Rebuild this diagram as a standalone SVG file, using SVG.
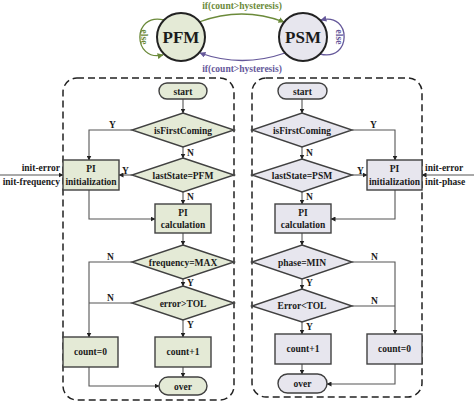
<svg xmlns="http://www.w3.org/2000/svg" width="474" height="404" viewBox="0 0 474 404">
<defs>
<style>
text{font-family:"Liberation Serif","Times New Roman",serif;font-weight:bold;fill:#1a1a1a}
.t{font-size:9.5px;text-anchor:middle}
.lab{font-size:9.5px}
.g{fill:#e4ead6;stroke:#404040;stroke-width:1.4}
.p{fill:#e7e6ee;stroke:#404040;stroke-width:1.4}
.c{fill:none;stroke:#555;stroke-width:1.1;marker-end:url(#ah)}
.cn{fill:none;stroke:#555;stroke-width:1.1}
.dash{fill:none;stroke:#222;stroke-width:1.5;stroke-dasharray:7,4}
</style>
<marker id="ah" viewBox="0 0 10 10" refX="9" refY="5" markerWidth="5" markerHeight="5" orient="auto" markerUnits="userSpaceOnUse"><path d="M0,0 L10,5 L0,10 z" fill="#222"/></marker>
<marker id="ahg" viewBox="0 0 10 10" refX="9" refY="5" markerWidth="6" markerHeight="6" orient="auto" markerUnits="userSpaceOnUse"><path d="M0,0 L10,5 L0,10 z" fill="#6b8a3a"/></marker>
<marker id="ahp" viewBox="0 0 10 10" refX="9" refY="5" markerWidth="6" markerHeight="6" orient="auto" markerUnits="userSpaceOnUse"><path d="M0,0 L10,5 L0,10 z" fill="#65589a"/></marker>
</defs>
<rect width="474" height="404" fill="#fff"/>

<!-- containers -->
<rect class="dash" x="63" y="78" width="171" height="322" rx="14"/>
<rect class="dash" x="252" y="78" width="170" height="319" rx="14"/>

<!-- connectors -->
<g id="connectors">
<path d="M199,22 Q242,6 284,22" fill="none" stroke="#6b8a3a" stroke-width="1.3" marker-end="url(#ahg)"/>
<path d="M285,53 Q242,68 200,53" fill="none" stroke="#65589a" stroke-width="1.3" marker-end="url(#ahp)"/>
<path d="M164,20 C132,12 132,62 163,55" fill="none" stroke="#6b8a3a" stroke-width="1.3" marker-end="url(#ahg)"/>
<path d="M320,54 C352,62 352,12 321,20" fill="none" stroke="#65589a" stroke-width="1.3" marker-end="url(#ahp)"/>

<!-- left flow -->
<path class="c" d="M183,99 V113"/>
<path class="c" d="M132,130 H89 V160"/>
<path class="c" d="M183,147 V158"/>
<path class="c" d="M132,175 H119"/>
<path class="c" d="M0,175 H63"/>
<path class="c" d="M89,190 V219 H155"/>
<path class="c" d="M183,192 V204"/>
<path class="c" d="M183,233 V245"/>
<path class="c" d="M132,262 H89 V337"/>
<path class="c" d="M183,279 V286"/>
<path class="cn" d="M132,303 H89"/>
<path class="c" d="M183,320 V337"/>
<path class="c" d="M183,367 V377"/>
<path class="c" d="M89,367 V386 H159"/>

<!-- right flow -->
<path class="c" d="M302,99 V113"/>
<path class="c" d="M352,130 H395 V160"/>
<path class="c" d="M302,147 V159"/>
<path class="c" d="M352,175 H367"/>
<path class="c" d="M474,175 H422"/>
<path class="c" d="M395,190 V219 H331"/>
<path class="c" d="M302,192 V204"/>
<path class="c" d="M302,233 V245"/>
<path class="c" d="M352,262 H395 V334"/>
<path class="c" d="M302,279 V289"/>
<path class="cn" d="M352,306 H395"/>
<path class="c" d="M302,322 V334"/>
<path class="c" d="M302,364 V374"/>
<path class="c" d="M395,364 V384 H327"/>

<!-- labels -->
<text class="t" x="242" y="9" style="fill:#6b8a3a">if(count&gt;hysteresis)</text>
<text class="t" x="242" y="72" style="fill:#65589a">if(count&gt;hysteresis)</text>
<text class="t" transform="translate(144,37) rotate(90)" style="fill:#6b8a3a" dy="3">else</text>
<text class="t" transform="translate(339,37) rotate(90)" style="fill:#65589a" dy="3">else</text>

<text class="lab" x="109" y="128">Y</text>
<text class="lab" x="187" y="156">N</text>
<text class="lab" x="122" y="174">Y</text>
<text class="lab" x="187" y="200">N</text>
<text class="lab" x="107" y="260">N</text>
<text class="lab" x="187" y="286">Y</text>
<text class="lab" x="107" y="301">N</text>
<text class="lab" x="187" y="328">Y</text>

<text class="lab" x="370" y="128">Y</text>
<text class="lab" x="306" y="156">N</text>
<text class="lab" x="357" y="174">Y</text>
<text class="lab" x="306" y="200">N</text>
<text class="lab" x="371" y="260">N</text>
<text class="lab" x="306" y="286">Y</text>
<text class="lab" x="371" y="304">N</text>
<text class="lab" x="306" y="330">Y</text>

<text class="lab" x="60" y="171" text-anchor="end">init-error</text>
<text class="lab" x="60" y="185" text-anchor="end">init-frequency</text>
<text class="lab" x="425" y="171">init-error</text>
<text class="lab" x="425" y="185">init-phase</text>
</g>

<!-- state nodes -->
<g id="PFM"><circle cx="181" cy="37" r="24" fill="#e4ead6" stroke="#222" stroke-width="2"/><text x="181" y="43" text-anchor="middle" font-size="17">PFM</text></g>
<g id="PSM"><circle cx="303" cy="37" r="24" fill="#e7e6ee" stroke="#222" stroke-width="2"/><text x="303" y="43" text-anchor="middle" font-size="17">PSM</text></g>

<!-- left nodes -->
<g id="L_start"><rect class="g" x="159" y="83" width="48" height="16" rx="8"/><text class="t" x="183" y="94.5">start</text></g>
<g id="L_isFirst"><polygon class="g" points="183,113 234,130 183,147 132,130"/><text class="t" x="183" y="133.5">isFirstComing</text></g>
<g id="L_last"><polygon class="g" points="183,158 234,175 183,192 132,175"/><text class="t" x="183" y="178.5">lastState=PFM</text></g>
<g id="L_init"><rect class="g" x="63" y="160" width="56" height="30"/><text class="t" x="91" y="172">PI</text><text class="t" x="91" y="185">initialization</text></g>
<g id="L_calc"><rect class="g" x="155" y="204" width="56" height="29"/><text class="t" x="183" y="216">PI</text><text class="t" x="183" y="228">calculation</text></g>
<g id="L_freq"><polygon class="g" points="183,245 234,262 183,279 132,262"/><text class="t" x="183" y="265.5">frequency=MAX</text></g>
<g id="L_err"><polygon class="g" points="183,286 234,303 183,320 132,303"/><text class="t" x="183" y="306.5">error&gt;TOL</text></g>
<g id="L_count0"><rect class="g" x="63" y="337" width="55" height="30"/><text class="t" x="90.5" y="355">count=0</text></g>
<g id="L_count1"><rect class="g" x="155" y="337" width="56" height="30"/><text class="t" x="183" y="355">count+1</text></g>
<g id="L_over"><rect class="g" x="159" y="377" width="48" height="18" rx="9"/><text class="t" x="183" y="389.5">over</text></g>

<!-- right nodes -->
<g id="R_start"><rect class="p" x="278" y="83" width="49" height="16" rx="8"/><text class="t" x="302.5" y="94.5">start</text></g>
<g id="R_isFirst"><polygon class="p" points="302,113 352,130 302,147 252,130"/><text class="t" x="302" y="133.5">isFirstComing</text></g>
<g id="R_last"><polygon class="p" points="302,159 352,175 302,192 252,175"/><text class="t" x="302" y="178.5">lastState=PSM</text></g>
<g id="R_init"><rect class="p" x="367" y="160" width="55" height="30"/><text class="t" x="394.5" y="172">PI</text><text class="t" x="394.5" y="185">initialization</text></g>
<g id="R_calc"><rect class="p" x="275" y="204" width="56" height="29"/><text class="t" x="303" y="216">PI</text><text class="t" x="303" y="228">calculation</text></g>
<g id="R_phase"><polygon class="p" points="302,245 352,262 302,279 252,262"/><text class="t" x="302" y="265.5">phase=MIN</text></g>
<g id="R_err"><polygon class="p" points="302,289 352,306 302,322 252,306"/><text class="t" x="302" y="309">Error&lt;TOL</text></g>
<g id="R_count1"><rect class="p" x="275" y="334" width="56" height="30"/><text class="t" x="303" y="352">count+1</text></g>
<g id="R_count0"><rect class="p" x="367" y="334" width="55" height="30"/><text class="t" x="394.5" y="352">count=0</text></g>
<g id="R_over"><rect class="p" x="278" y="374" width="49" height="19" rx="9.5"/><text class="t" x="302.5" y="387">over</text></g>
</svg>
